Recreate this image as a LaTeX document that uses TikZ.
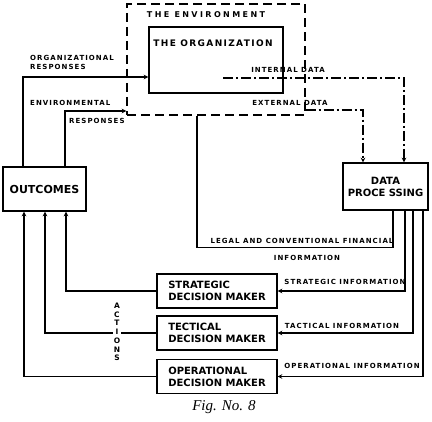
\documentclass[tikz,border=0pt]{standalone}
\usepackage{fontspec}
\setmainfont{DejaVu Sans}
\newfontfamily\lblfont[LetterSpace=15]{DejaVu Sans}
\newfontfamily\envfont[LetterSpace=30]{DejaVu Sans}
\newfontfamily\figfont{Liberation Serif}
\usetikzlibrary{shapes,arrows,positioning}

\begin{document}
\begin{tikzpicture}[
    x=1pt, y=-1pt,
    box/.style={rectangle, draw, line width=1.2pt, inner sep=2pt, align=center, font=\bfseries\fontsize{10}{12}\selectfont},
    dm/.style={box, minimum width=120pt, minimum height=34pt, align=left},
    title/.style={inner sep=1pt, font=\lblfont\bfseries\fontsize{9}{11}\selectfont},
    lbl/.style={inner sep=1pt, font=\lblfont\bfseries\fontsize{7}{8.5}\selectfont},
    arrow/.style={->, >=stealth, line width=1.1pt},
    line/.style={line width=1.1pt},
    dataline/.style={->, >=stealth, line width=1.1pt, dash pattern=on 10pt off 3pt on 2pt off 3pt}
]
    \useasboundingbox (0,0) rectangle (432,422);

    % Environment and organization
    \node[box, minimum width=178pt, minimum height=111pt, dash pattern=on 9pt off 5pt] (env) at (216,59.5) {};
    \node[box, minimum width=134pt, minimum height=66pt] (org) at (216,60) {};
    \node[title, font=\envfont\bfseries\fontsize{8}{10}\selectfont] (envtitle) at (206,15) {THE ENVIRONMENT};
    \node[title] (orgtitle) at (213,43) {THE ORGANIZATION};

    % Outcomes and data processing
    \node[box, minimum width=83pt, minimum height=44pt, font=\bfseries\fontsize{11}{13}\selectfont] (outcomes) at (44.5,189) {OUTCOMES};
    \node[box, minimum width=85pt, minimum height=47pt] (dp) at (385.5,186.5) {DATA\\PROCE SSING};

    % Decision makers
    \node[dm] (strat) at (217,291) {STRATEGIC\\DECISION MAKER};
    \node[dm] (tact) at (217,333) {TECTICAL\\DECISION MAKER};
    \node[dm] (oper) at (217,376.5) {OPERATIONAL\\DECISION MAKER};

    % Responses
    \draw[arrow] (23,0 |- outcomes.north) |- (org.west |- 0,77);
    \draw[arrow] (65,0 |- outcomes.north) |- (env.west |- 0,111);

    % Data
    \coordinate (intdata) at (223,78);
    \draw[dataline] (intdata) -| (404,0 |- dp.north);
    \draw[dataline] (env.east |- 0,110) -| (363,0 |- dp.north);

    % Information
    \draw[line] (197,0 |- env.south) -- ++(0,132) -| (393,0 |- dp.south);
    \draw[arrow] (405,0 |- dp.south) |- (strat.east);
    \draw[arrow] (413,0 |- dp.south) |- (tact.east);
    \draw[arrow] (423,0 |- dp.south) |- (oper.east);

    % Actions
    \draw[arrow] (strat.west) -| (66,0 |- outcomes.south);
    \draw[arrow] (tact.west) -| (45,0 |- outcomes.south);
    \draw[arrow] (oper.west) -| (24,0 |- outcomes.south);

    % Labels
    \node[lbl, align=left, anchor=west] (orglbl) at (29,62.5) {ORGANIZATIONAL\\RESPONSES};
    \node[lbl, anchor=west] (envlbl) at (29,103) {ENVIRONMENTAL};
    \node[lbl, anchor=west] (envlbl2) at (68,121) {RESPONSES};
    \node[lbl] (intlbl) at (288,70) {INTERNAL DATA};
    \node[lbl] (extlbl) at (290,103) {EXTERNAL DATA};
    \node[lbl] (legallbl) at (302,241) {LEGAL AND CONVENTIONAL FINANCIAL};
    \node[lbl] (legallbl2) at (307,258) {INFORMATION};
    \node[lbl] (stratlbl) at (345,282) {STRATEGIC INFORMATION};
    \node[lbl] (tactlbl) at (342,326) {TACTICAL INFORMATION};
    \node[lbl] (operlbl) at (352,366) {OPERATIONAL INFORMATION};
    \node[lbl, fill=white, align=center, font=\lblfont\bfseries\fontsize{7.5}{8.7}\selectfont] (actions) at (117,332) {A\\C\\T\\I\\O\\N\\S};

    \node[font=\figfont\itshape\fontsize{15}{17}\selectfont] (fig) at (224,407) {Fig. No. 8};
\end{tikzpicture}
\end{document}
